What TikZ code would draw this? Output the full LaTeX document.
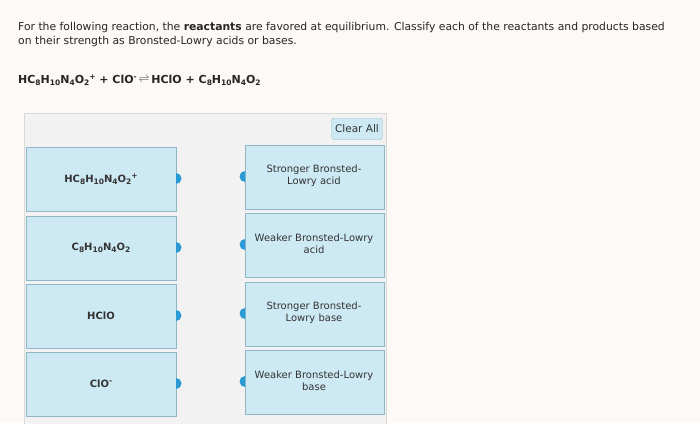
\documentclass[tikz,border=0pt]{standalone}
\usepackage{fontspec}
\setmainfont{DejaVu Sans}
\newcommand{\sbx}[1]{\raisebox{-0.35ex}{\fontsize{7.5}{8}\selectfont #1}}
\newcommand{\spx}[1]{\raisebox{0.7ex}{\fontsize{7.5}{8}\selectfont #1}}
\definecolor{cardfill}{HTML}{CDE9F4}
\definecolor{cardline}{HTML}{8FB7C6}
\definecolor{dotc}{HTML}{2A9AD6}
\begin{document}
\begin{tikzpicture}[x=1pt,y=-1pt,
  card/.style={draw=cardline, fill=cardfill, line width=1pt},
  lab/.style={font=\fontsize{10}{12}\selectfont, text=black!80, align=center},
  dot/.style={fill=dotc}]
\useasboundingbox (0,0) rectangle (700,423);
\fill[white!95!brown] (0,0) rectangle (700,423);
\node[anchor=north west, font=\fontsize{10.8}{14}\selectfont, align=left, text=black!85, inner sep=0] (q) at (18,22)
 {For the following reaction, the \textbf{reactants} are favored at equilibrium. Classify each of the reactants and products based\\ on their strength as Bronsted-Lowry acids or bases.};
\node[anchor=west, font=\fontsize{11}{12}\selectfont\bfseries, text=black!85, inner sep=0] (eq) at (18,80)
 {HC\sbx{8}H\sbx{10}N\sbx{4}O\sbx{2}\spx{+} + ClO\spx{-}\,\raisebox{0.2ex}{$\rightleftharpoons$}\,HClO + C\sbx{8}H\sbx{10}N\sbx{4}O\sbx{2}};
\draw[fill=gray!10, draw=gray!30] (24,113) rectangle (386,430);
\node[draw=cardline, fill=cardfill, rounded corners=2pt, lab, font=\fontsize{10.5}{12}\selectfont, minimum height=21pt] (clr) at (357,129) {Clear All};
\foreach \i/\t/\y in {1/{\textbf{HC\sbx{8}H\sbx{10}N\sbx{4}O\sbx{2}\spx{+}}}/147, 2/{\textbf{C\sbx{8}H\sbx{10}N\sbx{4}O\sbx{2}}}/216, 3/{\textbf{HClO}}/284, 4/{\textbf{ClO\spx{-}}}/352}{
  \draw[card] (26,\y) rectangle (176,\y+64);
  \node[lab] (l\i) at (101,\y+32) {\t};
  \fill[dot] (176,\y+26) arc (-90:90:5.5) -- cycle;
}
\foreach \i/\t/\y in {1/{Stronger Bronsted-\\Lowry acid}/145, 2/{Weaker Bronsted-Lowry\\acid}/213, 3/{Stronger Bronsted-\\Lowry base}/282, 4/{Weaker Bronsted-Lowry\\base}/350}{
  \draw[card] (245,\y) rectangle (384,\y+64);
  \node[lab] (r\i) at (314,\y+31) {\t};
  \fill[dot] (245,\y+26) arc (270:90:5.5) -- cycle;
}
\end{tikzpicture}
\end{document}
